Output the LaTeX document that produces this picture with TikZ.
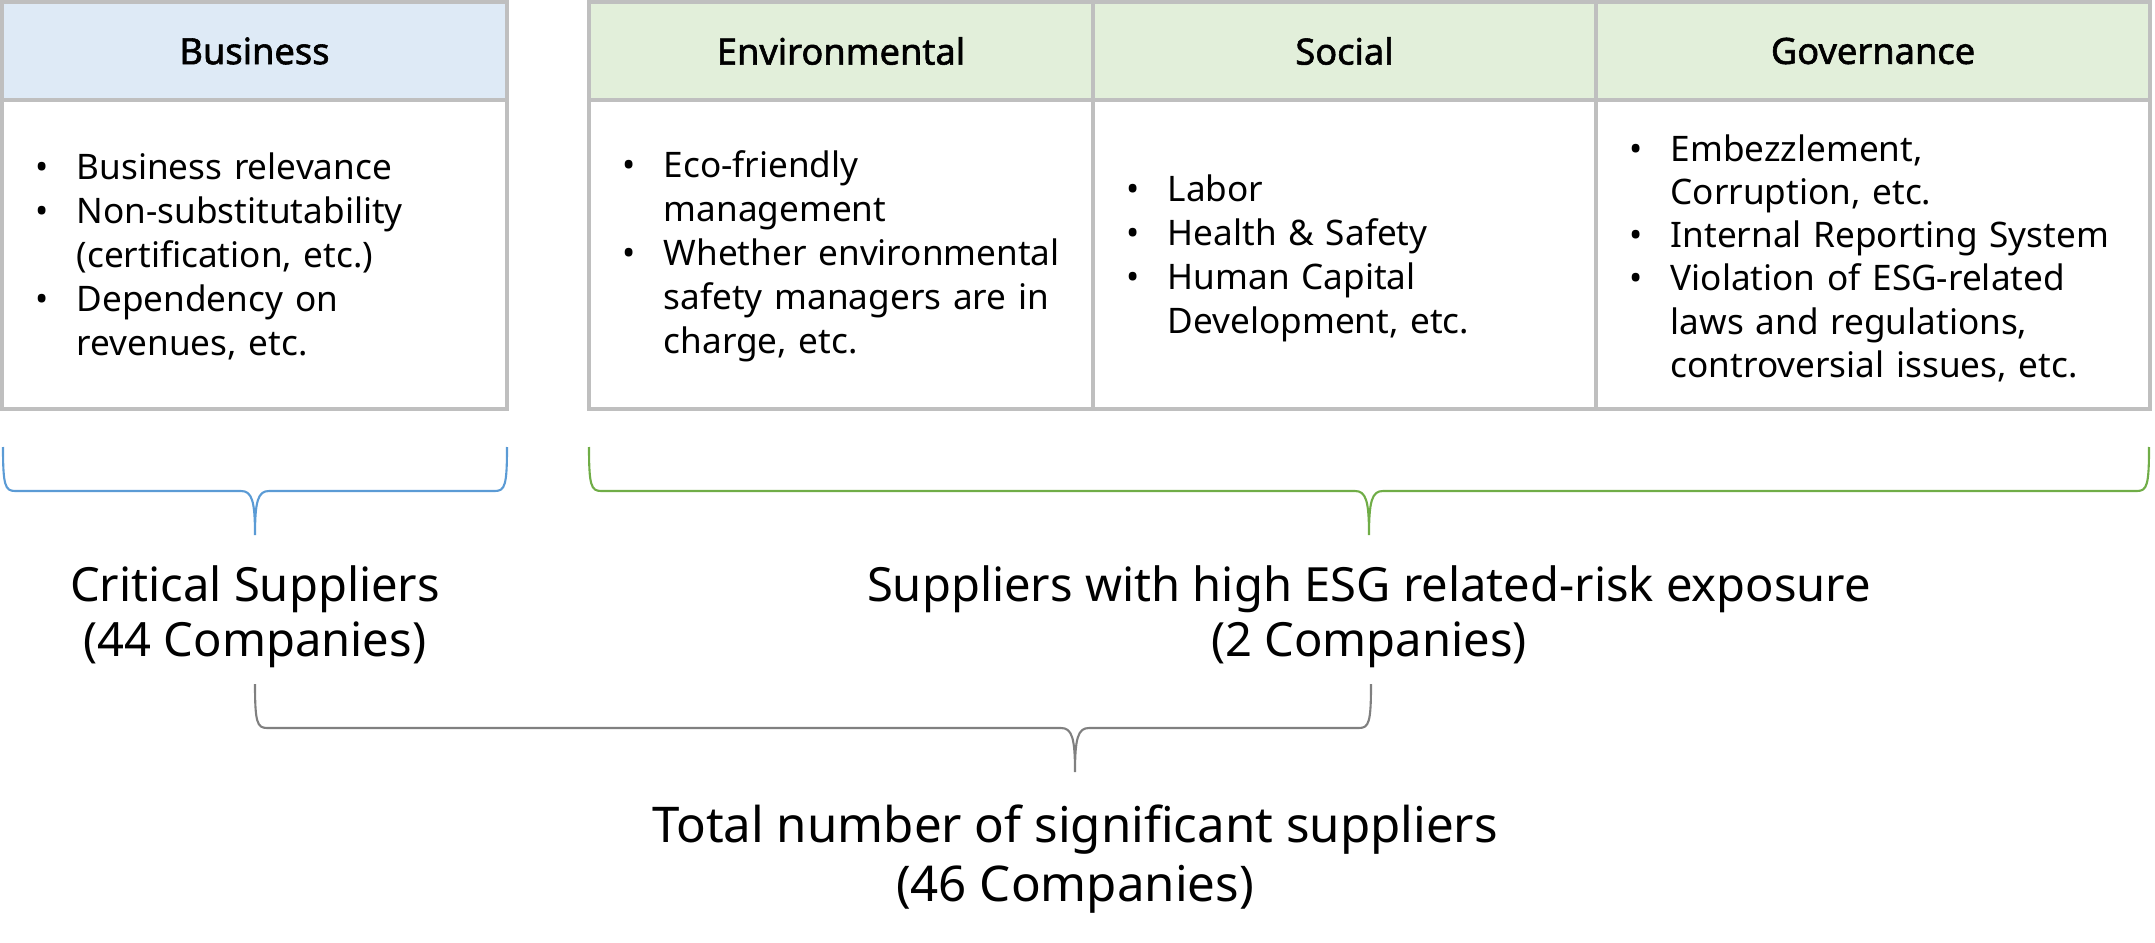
\documentclass[tikz,border=0pt]{standalone}
\usepackage{fontspec}
\setmainfont{Noto Sans}
\newfontfamily\headfont{Noto Sans}[FakeBold=1.6]
\usepackage{enumitem}
\usetikzlibrary{positioning}
\definecolor{cellgray}{HTML}{BFBFBF}
\definecolor{bizblue}{HTML}{DEEAF6}
\definecolor{esggreen}{HTML}{E2EFDA}
\definecolor{bluebrace}{HTML}{5B9BD5}
\definecolor{greenbrace}{HTML}{70AD47}
\definecolor{graybrace}{HTML}{808080}
\setlist[itemize]{label=\textbullet, leftmargin=0.76cm, labelsep=0.28cm, itemsep=0pt, topsep=0pt, parsep=0pt, partopsep=0pt}
\newcommand{\supbrace}[5]{%
\draw[#1, line width=0.6pt] (#2,#5) .. controls (#2,#5+38) and (#2+2,#5+44) .. (#2+12,#5+44) -- (#3-14,#5+44) .. controls (#3-3,#5+44) and (#3,#5+54) .. (#3,#5+88) .. controls (#3,#5+54) and (#3+3,#5+44) .. (#3+14,#5+44) -- (#4-12,#5+44) .. controls (#4-2,#5+44) and (#4,#5+38) .. (#4,#5);}
\begin{document}
\begin{tikzpicture}[x=0.01cm, y=-0.01cm,
head/.style={draw=cellgray, line width=1.1pt, inner sep=0pt, minimum height=0.98cm, font=\headfont\fontsize{10.3}{12}\selectfont},
body/.style={draw=cellgray, line width=1.1pt, inner sep=0pt, minimum height=3.09cm},
items/.style={text width=6cm, inner sep=0pt, align=left, anchor=west, font=\fontsize{10}{12.5}\selectfont},
grouptxt/.style={align=center, inner sep=0pt, font=\fontsize{13.4}{15.7}\selectfont}]
\useasboundingbox (0,0) rectangle (2155,943);
\node[head, fill=bizblue, minimum width=5.05cm] (bizHead) at (254.5,51) {Business};
\node[body, minimum width=5.05cm] (bizBody) at (254.5,254.5) {};
\node[head, fill=esggreen, minimum width=5.04cm] (envHead) at (841,51) {Environmental};
\node[body, minimum width=5.04cm] (envBody) at (841,254.5) {};
\node[head, fill=esggreen, minimum width=5.03cm] (socHead) at (1344.5,51) {Social};
\node[body, minimum width=5.03cm] (socBody) at (1344.5,254.5) {};
\node[head, fill=esggreen, minimum width=5.54cm] (govHead) at (1873,51) {Governance};
\node[body, minimum width=5.54cm] (govBody) at (1873,254.5) {};
\node[items, yshift=0.07cm] (bizList) at (bizBody.west) {\begin{itemize}
\item Business relevance
\item Non-substitutability\\(certification, etc.)
\item Dependency on\\revenues, etc.
\end{itemize}};
\node[items, yshift=0.07cm] (envList) at (envBody.west) {\begin{itemize}
\item Eco-friendly\\management
\item Whether environmental\\safety managers are in\\charge, etc.
\end{itemize}};
\node[items, yshift=0.045cm] (socList) at (socBody.west) {\begin{itemize}
\item Labor
\item Health \& Safety
\item Human Capital\\Development, etc.
\end{itemize}};
\node[items, yshift=0.045cm, font=\fontsize{10}{12.3}\selectfont] (govList) at (govBody.west) {\begin{itemize}
\item Embezzlement,\\Corruption, etc.
\item Internal Reporting System
\item Violation of ESG-related\\laws and regulations,\\controversial issues, etc.
\end{itemize}};
\supbrace{bluebrace}{3}{255}{507}{447}
\coordinate (bizTip) at (255,535);
\supbrace{greenbrace}{589}{1369}{2149}{447}
\coordinate (esgTip) at (1369,535);
\node[grouptxt, below=0.3cm of bizTip] (critTxt) {Critical Suppliers\\(44 Companies)};
\node[grouptxt, below=0.3cm of esgTip] (riskTxt) {Suppliers with high ESG related-risk exposure\\(2 Companies)};
\supbrace{graybrace}{255}{1075}{1371}{684}
\coordinate (allTip) at (1075,772);
\node[grouptxt, below=0.32cm of allTip, font=\fontsize{14}{16.9}\selectfont] (allTxt) {Total number of significant suppliers\\(46 Companies)};
\end{tikzpicture}
\end{document}
